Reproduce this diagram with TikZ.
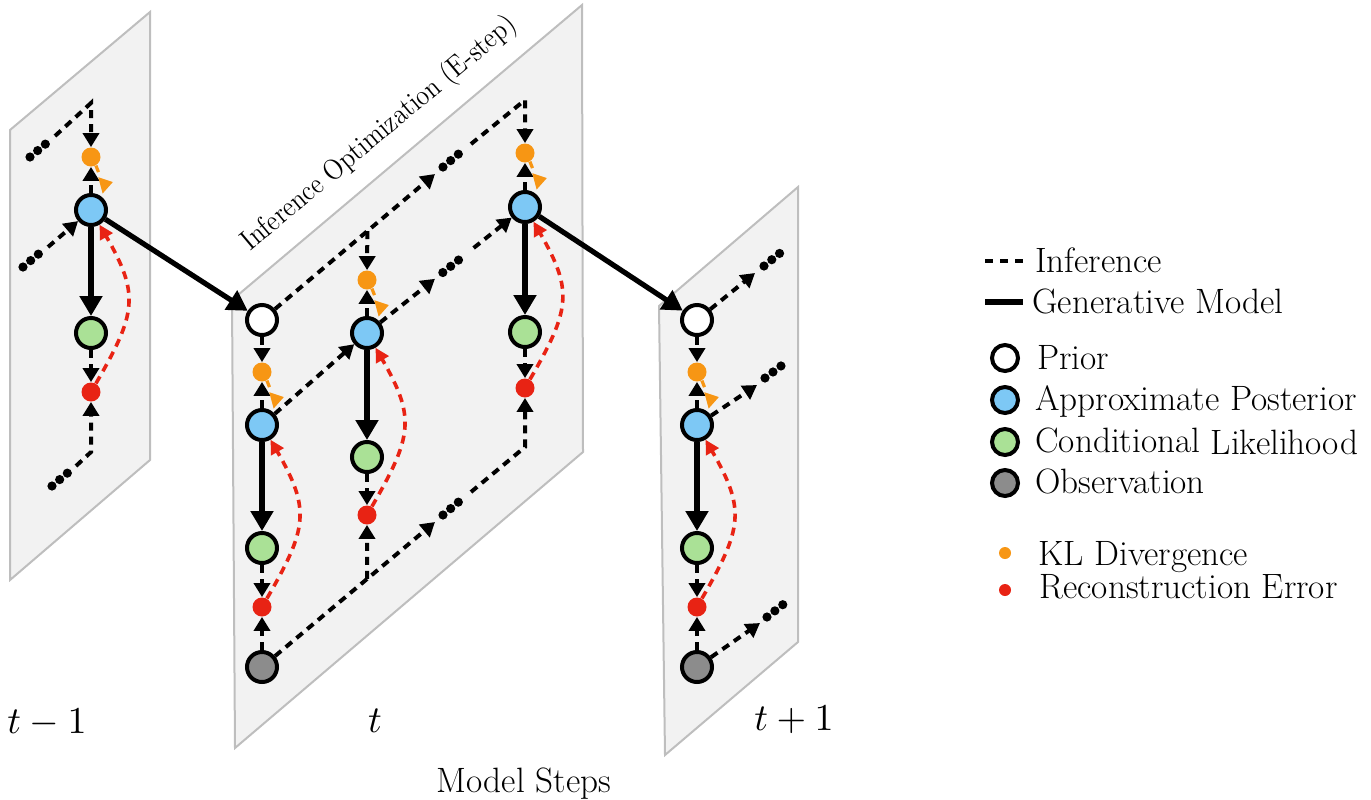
\documentclass[tikz,border=0pt]{standalone}
\usetikzlibrary{arrows.meta,calc}
\definecolor{klcol}{RGB}{247,150,20}
\definecolor{reccol}{RGB}{232,35,20}
\definecolor{postcol}{RGB}{125,200,245}
\definecolor{likcol}{RGB}{170,225,150}
\definecolor{obscol}{RGB}{140,140,140}
\definecolor{panelfill}{RGB}{242,242,242}
\definecolor{paneldraw}{RGB}{190,190,190}
\tikzset{
 panel/.style={fill=panelfill, draw=paneldraw, line width=1pt},
 var/.style={circle, draw=black, line width=2pt, minimum size=15pt, inner sep=0pt},
 priornode/.style={var, fill=white},
 postnode/.style={var, fill=postcol},
 liknode/.style={var, fill=likcol},
 obsnode/.style={var, fill=obscol},
 kldot/.style={circle, fill=klcol, minimum size=9.5pt, inner sep=0pt},
 recdot/.style={circle, fill=reccol, minimum size=9.5pt, inner sep=0pt},
 blackdot/.style={circle, fill=black, minimum size=4.6pt, inner sep=0pt},
 inf/.style={line width=2pt, dash pattern=on 4pt off 3pt, -{Triangle[length=7pt,width=8pt]}},
 gen/.style={line width=2.6pt, -{Triangle[length=10pt,width=11pt]}},
 recarr/.style={draw=reccol, line width=1.8pt, dash pattern=on 4pt off 3pt, -{Triangle[length=7pt,width=7pt]}},
 klarr/.style={draw=klcol, line width=1.6pt, dash pattern=on 3.5pt off 20pt, -{Triangle[length=6.5pt,width=8pt,fill=klcol]}},
 lbl/.style={font=\fontsize{17.6}{21}\selectfont, anchor=base west, inner sep=0pt},
 tlbl/.style={anchor=base, inner sep=0pt},
 ellip/.pic={\foreach \k in {0,1,2} \node[blackdot] at (\k*5pt,0) {};},
}
\begin{document}
\begin{tikzpicture}[x=0.5pt,y=0.5pt]
\useasboundingbox (0,0) rectangle (1371,-799);

% panels
\path[panel] (10,-130) -- (150,-12) -- (150,-460) -- (10,-580) -- cycle;
\path[panel] (232,-300) -- (582,-5) -- (583,-452) -- (235,-748) -- cycle;
\path[panel] (659,-306) -- (798,-187) -- (798,-642) -- (665,-755) -- cycle;

% panel title
\node[font=\fontsize{14.5}{16}\selectfont, rotate=40, anchor=base west, inner sep=0pt] (title) at (250,-252) {\scalebox{0.88}[1]{Inference Optimization (E-step)}};

% left panel nodes
\node[kldot] (Lkl) at (91,-157) {};
\node[postnode] (Lq) at (91,-210) {};
\node[liknode] (Lg) at (91,-333) {};
\node[recdot] (Lr) at (91,-392) {};

% middle panel nodes
\node[priornode] (Mp) at (262,-320) {};
\node[kldot] (Mkl1) at (262,-372) {};
\node[postnode] (Mq1) at (262,-425) {};
\node[liknode] (Mg1) at (262,-548) {};
\node[recdot] (Mr1) at (262,-607) {};
\node[obsnode] (Mx) at (262,-667) {};
\node[kldot] (Mkl2) at (367,-280) {};
\node[postnode] (Mq2) at (367,-333) {};
\node[liknode] (Mg2) at (367,-457) {};
\node[recdot] (Mr2) at (367,-515) {};
\node[kldot] (Mkl3) at (525,-153) {};
\node[postnode] (Mq3) at (525,-207) {};
\node[liknode] (Mg3) at (525,-332) {};
\node[recdot] (Mr3) at (525,-388) {};

% right panel nodes
\node[priornode] (Rp) at (697,-320) {};
\node[kldot] (Rkl) at (697,-372) {};
\node[postnode] (Rq) at (697,-425) {};
\node[liknode] (Rg) at (697,-548) {};
\node[recdot] (Rr) at (697,-607) {};
\node[obsnode] (Rx) at (697,-667) {};

% ---------- left panel connectors
\coordinate (Ld1) at (30,-157);
\coordinate (Ls1) at (55,-136);
\coordinate (Lc1) at (91,-103);
\pic[rotate=40] at (Ld1) {ellip};
\draw[inf] (Ls1) -- (Lc1) -- (Lkl);
\coordinate (Ld2) at (23,-267);
\coordinate (Ls2) at (48,-247);
\pic[rotate=40] at (Ld2) {ellip};
\draw[inf] (Ls2) -- (Lq);
\coordinate (Ld3) at (52,-486);
\coordinate (Ls3) at (76,-466);
\coordinate (Lc3) at (91,-452);
\pic[rotate=40] at (Ld3) {ellip};
\draw[inf] (Ls3) -- (Lc3) -- (Lr);
\draw[inf] (Lq) -- (Lkl);
\draw[klarr] (Lkl.-60) to[out=-70,in=195] ($(Lkl)+(22,-25)$);
\draw[gen] (Lq) -- (Lg);
\draw[inf] (Lg) -- (Lr);
\draw[recarr] (Lr) to[out=60,in=-60,looseness=1.3] (Lq);
\draw[gen] (Lq) -- (Mp);

% ---------- middle panel connectors
\draw[inf] (Mp) -- (Mkl1);
\draw[inf] (Mq1) -- (Mkl1);
\draw[klarr] (Mkl1.-60) to[out=-70,in=195] ($(Mkl1)+(22,-25)$);
\draw[gen] (Mq1) -- (Mg1);
\draw[inf] (Mg1) -- (Mr1);
\draw[inf] (Mx) -- (Mr1);
\draw[recarr] (Mr1) to[out=60,in=-60,looseness=1.3] (Mq1);
% top line
\coordinate (MA1) at (435,-174);
\coordinate (MAd) at (443,-167);
\coordinate (MA2) at (471,-144);
\coordinate (MAc) at (525,-100);
\coordinate (MAb) at ($(Mp)!0.609!(MA1)$);
\draw[inf] (Mp) -- (MA1);
\pic[rotate=40] at (MAd) {ellip};
\draw[inf] (MA2) -- (MAc) -- (Mkl3);
\draw[inf] (MAb) -- (Mkl2);
% second column
\draw[inf] (Mq1) -- (Mq2);
\draw[inf] (Mq2) -- (Mkl2);
\draw[klarr] (Mkl2.-60) to[out=-70,in=195] ($(Mkl2)+(22,-25)$);
\draw[gen] (Mq2) -- (Mg2);
\draw[inf] (Mg2) -- (Mr2);
\draw[recarr] (Mr2) to[out=60,in=-60,looseness=1.3] (Mq2);
% line from second posterior to third
\coordinate (MC1) at ($(Mq2)!0.43!(Mq3)$);
\coordinate (MCd) at ($(Mq2)!0.48!(Mq3)$);
\coordinate (MC2) at ($(Mq2)!0.675!(Mq3)$);
\draw[inf] (Mq2) -- (MC1);
\pic[rotate=38.5] at (MCd) {ellip};
\draw[inf] (MC2) -- (Mq3);
% bottom line
\coordinate (MD1) at (435,-522);
\coordinate (MDb) at ($(Mx)!0.607!(MD1)$);
\coordinate (MDd) at (443,-515);
\coordinate (MD2) at (471,-492);
\coordinate (MDc) at (525,-447);
\draw[inf] (Mx) -- (MD1);
\draw[inf] (MDb) -- (Mr2);
\pic[rotate=40] at (MDd) {ellip};
\draw[inf] (MD2) -- (MDc) -- (Mr3);
% third column
\draw[inf] (Mq3) -- (Mkl3);
\draw[klarr] (Mkl3.-60) to[out=-70,in=195] ($(Mkl3)+(22,-25)$);
\draw[gen] (Mq3) -- (Mg3);
\draw[inf] (Mg3) -- (Mr3);
\draw[recarr] (Mr3) to[out=60,in=-60,looseness=1.3] (Mq3);
\draw[gen] (Mq3) -- (Rp);

% ---------- right panel connectors
\draw[inf] (Rp) -- (Rkl);
\draw[inf] (Rq) -- (Rkl);
\draw[klarr] (Rkl.-60) to[out=-70,in=195] ($(Rkl)+(22,-25)$);
\draw[gen] (Rq) -- (Rg);
\draw[inf] (Rg) -- (Rr);
\draw[inf] (Rx) -- (Rr);
\draw[recarr] (Rr) to[out=60,in=-60,looseness=1.3] (Rq);
\coordinate (RA1) at (755,-273);
\coordinate (RAd) at (764,-266);
\draw[inf] (Rp) -- (RA1);
\pic[rotate=39] at (RAd) {ellip};
\coordinate (RB1) at (757,-385);
\coordinate (RBd) at (765,-378);
\draw[inf] (Rq) -- (RB1);
\pic[rotate=37] at (RBd) {ellip};
\coordinate (RC1) at (760,-623);
\coordinate (RCd) at (767,-617);
\draw[inf] (Rx) -- (RC1);
\pic[rotate=38] at (RCd) {ellip};

% ---------- step labels
\node[tlbl] (tm1) at (47,-733) {\scalebox{1.9}{$t-1$}};
\node[tlbl] (tt) at (375,-732) {\scalebox{1.9}{$t$}};
\node[tlbl] (tp1) at (794,-730) {\scalebox{1.9}{$t+1$}};
\node[lbl, anchor=base] (steps) at (524,-792) {Model Steps};

% ---------- legend
\coordinate (lgIa) at (985,-261);
\coordinate (lgIb) at (1023,-261);
\draw[line width=2pt, dash pattern=on 4pt off 3.5pt] (lgIa) -- (lgIb);
\node[lbl] (tInf) at (1035,-272) {Inference};
\coordinate (lgGa) at (985,-302);
\coordinate (lgGb) at (1023,-302);
\draw[line width=2.6pt] (lgGa) -- (lgGb);
\node[lbl] (tGen) at (1032,-313) {Generative Model};
\node[priornode, minimum size=13pt] (kP) at (1005,-358) {};
\node[lbl] (tP) at (1037,-369) {Prior};
\node[postnode, minimum size=13pt] (kQ) at (1005,-400) {};
\node[lbl] (tQ) at (1035,-410) {Approximate Posterior};
\node[liknode, minimum size=13pt] (kG) at (1005,-442) {};
\node[lbl] (tG) at (1035,-452) {Conditional \raisebox{-1pt}{Likelihood}};
\node[obsnode, minimum size=13pt] (kX) at (1005,-483) {};
\node[lbl] (tX) at (1035,-493) {Observation};
\node[kldot, minimum size=6pt] (kK) at (1005,-553) {};
\node[lbl] (tK) at (1038,-565) {KL Divergence};
\node[recdot, minimum size=6pt] (kR) at (1005,-590) {};
\node[lbl] (tR) at (1039,-598) {Reconstruction Error};
\end{tikzpicture}
\end{document}
